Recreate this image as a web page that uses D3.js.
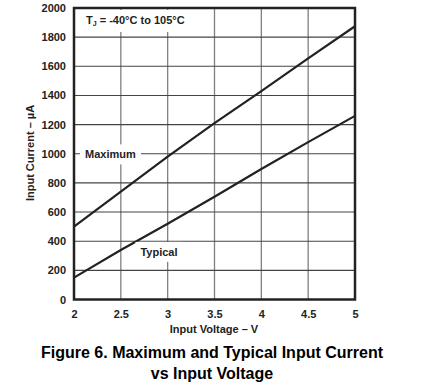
<!DOCTYPE html>
<html><head><meta charset="utf-8">
<script src="https://cdn.jsdelivr.net/npm/d3@7"></script>
<style>body{margin:0;background:#fff}svg text{font-family:Arial,"Liberation Sans",sans-serif;font-weight:bold}</style>
</head><body><svg id="c" width="425" height="389"></svg>
<script>
const xTicks = [2, 2.5, 3, 3.5, 4, 4.5, 5];
const yTicks = [0, 200, 400, 600, 800, 1000, 1200, 1400, 1600, 1800, 2000];
const voltage = [2, 2.5, 3, 3.5, 4, 4.5, 5];
const maximum = [500, 740, 980, 1210, 1430, 1655, 1875];
const typical = [150, 340, 520, 705, 895, 1080, 1260];
const seriesLabels = ["Maximum", "Typical"];

const svg = d3.select("#c");
const L = 74, R = 355, T = 8, B = 299.5;
const x = d3.scaleLinear().domain([2, 5]).range([L, R]);
const y = d3.scaleLinear().domain([0, 2000]).range([B, T]);

// grid
svg.append("g").selectAll("line").data(xTicks.slice(1, -1)).join("line")
  .attr("x1", d => x(d)).attr("x2", d => x(d)).attr("y1", T).attr("y2", B)
  .attr("stroke", "#808080").attr("stroke-width", 1.3);
svg.append("g").selectAll("line").data(yTicks.slice(1, -1)).join("line")
  .attr("x1", L).attr("x2", R).attr("y1", d => y(d)).attr("y2", d => y(d))
  .attr("stroke", "#444").attr("stroke-width", 1.1);

// axes tick labels
const xAxis = d3.axisBottom(x).tickValues(xTicks).tickSize(0).tickPadding(11).tickFormat(d3.format("~g"));
const gx = svg.append("g").attr("transform", `translate(0,${B})`).call(xAxis);
gx.select(".domain").remove();
gx.selectAll("text").attr("font-size", 11).attr("fill", "#222").attr("font-family", null);
const yAxis = d3.axisLeft(y).tickValues(yTicks).tickSize(0).tickPadding(8).tickFormat(d3.format("d"));
const gy = svg.append("g").attr("transform", `translate(${L},0)`).call(yAxis);
gy.select(".domain").remove();
gy.selectAll("text").attr("font-size", 11).attr("fill", "#222").attr("font-family", null);

// TJ label box
svg.append("rect").attr("x", 78).attr("y", T + 2).attr("width", 112).attr("height", 22).attr("fill", "#fff");
const tj = svg.append("text").attr("x", 86).attr("y", 24).attr("font-size", 11).attr("fill", "#222");
tj.append("tspan").text("T");
tj.append("tspan").attr("font-size", 7).attr("dy", 2).text("J");
tj.append("tspan").attr("dy", -2).text(" = -40°C to 105°C");

// lines
const line = d3.line().x((d, i) => x(voltage[i])).y(d => y(d));
[maximum, typical].forEach(s => {
  svg.append("path").datum(s).attr("d", line).attr("fill", "none")
    .attr("stroke", "#222").attr("stroke-width", 2.2);
});

// labels with white background
function bgText(tx, ty, txt, anchor) {
  const g = svg.append("g");
  const r = g.append("rect").attr("fill", "#fff");
  const t = g.append("text").attr("x", tx).attr("y", ty).attr("font-size", 11)
    .attr("fill", "#222").attr("text-anchor", anchor).attr("dominant-baseline", "middle").text(txt);
  const bb = t.node().getBBox();
  r.attr("x", bb.x - 5).attr("y", bb.y - 4).attr("width", bb.width + 10).attr("height", bb.height + 8);
}
bgText(85, 155.5, seriesLabels[0], "start");
bgText(159, 253, seriesLabels[1], "middle");

// frame
svg.append("rect").attr("x", L).attr("y", T).attr("width", R - L).attr("height", B - T)
  .attr("fill", "none").attr("stroke", "#222").attr("stroke-width", 2.5);

// axis titles
svg.append("text").attr("x", 214).attr("y", 333).attr("text-anchor", "middle")
  .attr("font-size", 11).attr("fill", "#222").text("Input Voltage – V");
svg.append("text").attr("transform", "translate(34,153) rotate(-90)").attr("text-anchor", "middle")
  .attr("font-size", 11).attr("fill", "#222").text("Input Current – µA");

// caption
svg.append("text").attr("x", 212).attr("y", 358).attr("text-anchor", "middle")
  .attr("font-size", 16).attr("fill", "#000").text("Figure 6. Maximum and Typical Input Current");
svg.append("text").attr("x", 212).attr("y", 379).attr("text-anchor", "middle")
  .attr("font-size", 16).attr("fill", "#000").text("vs Input Voltage");
</script></body></html>
